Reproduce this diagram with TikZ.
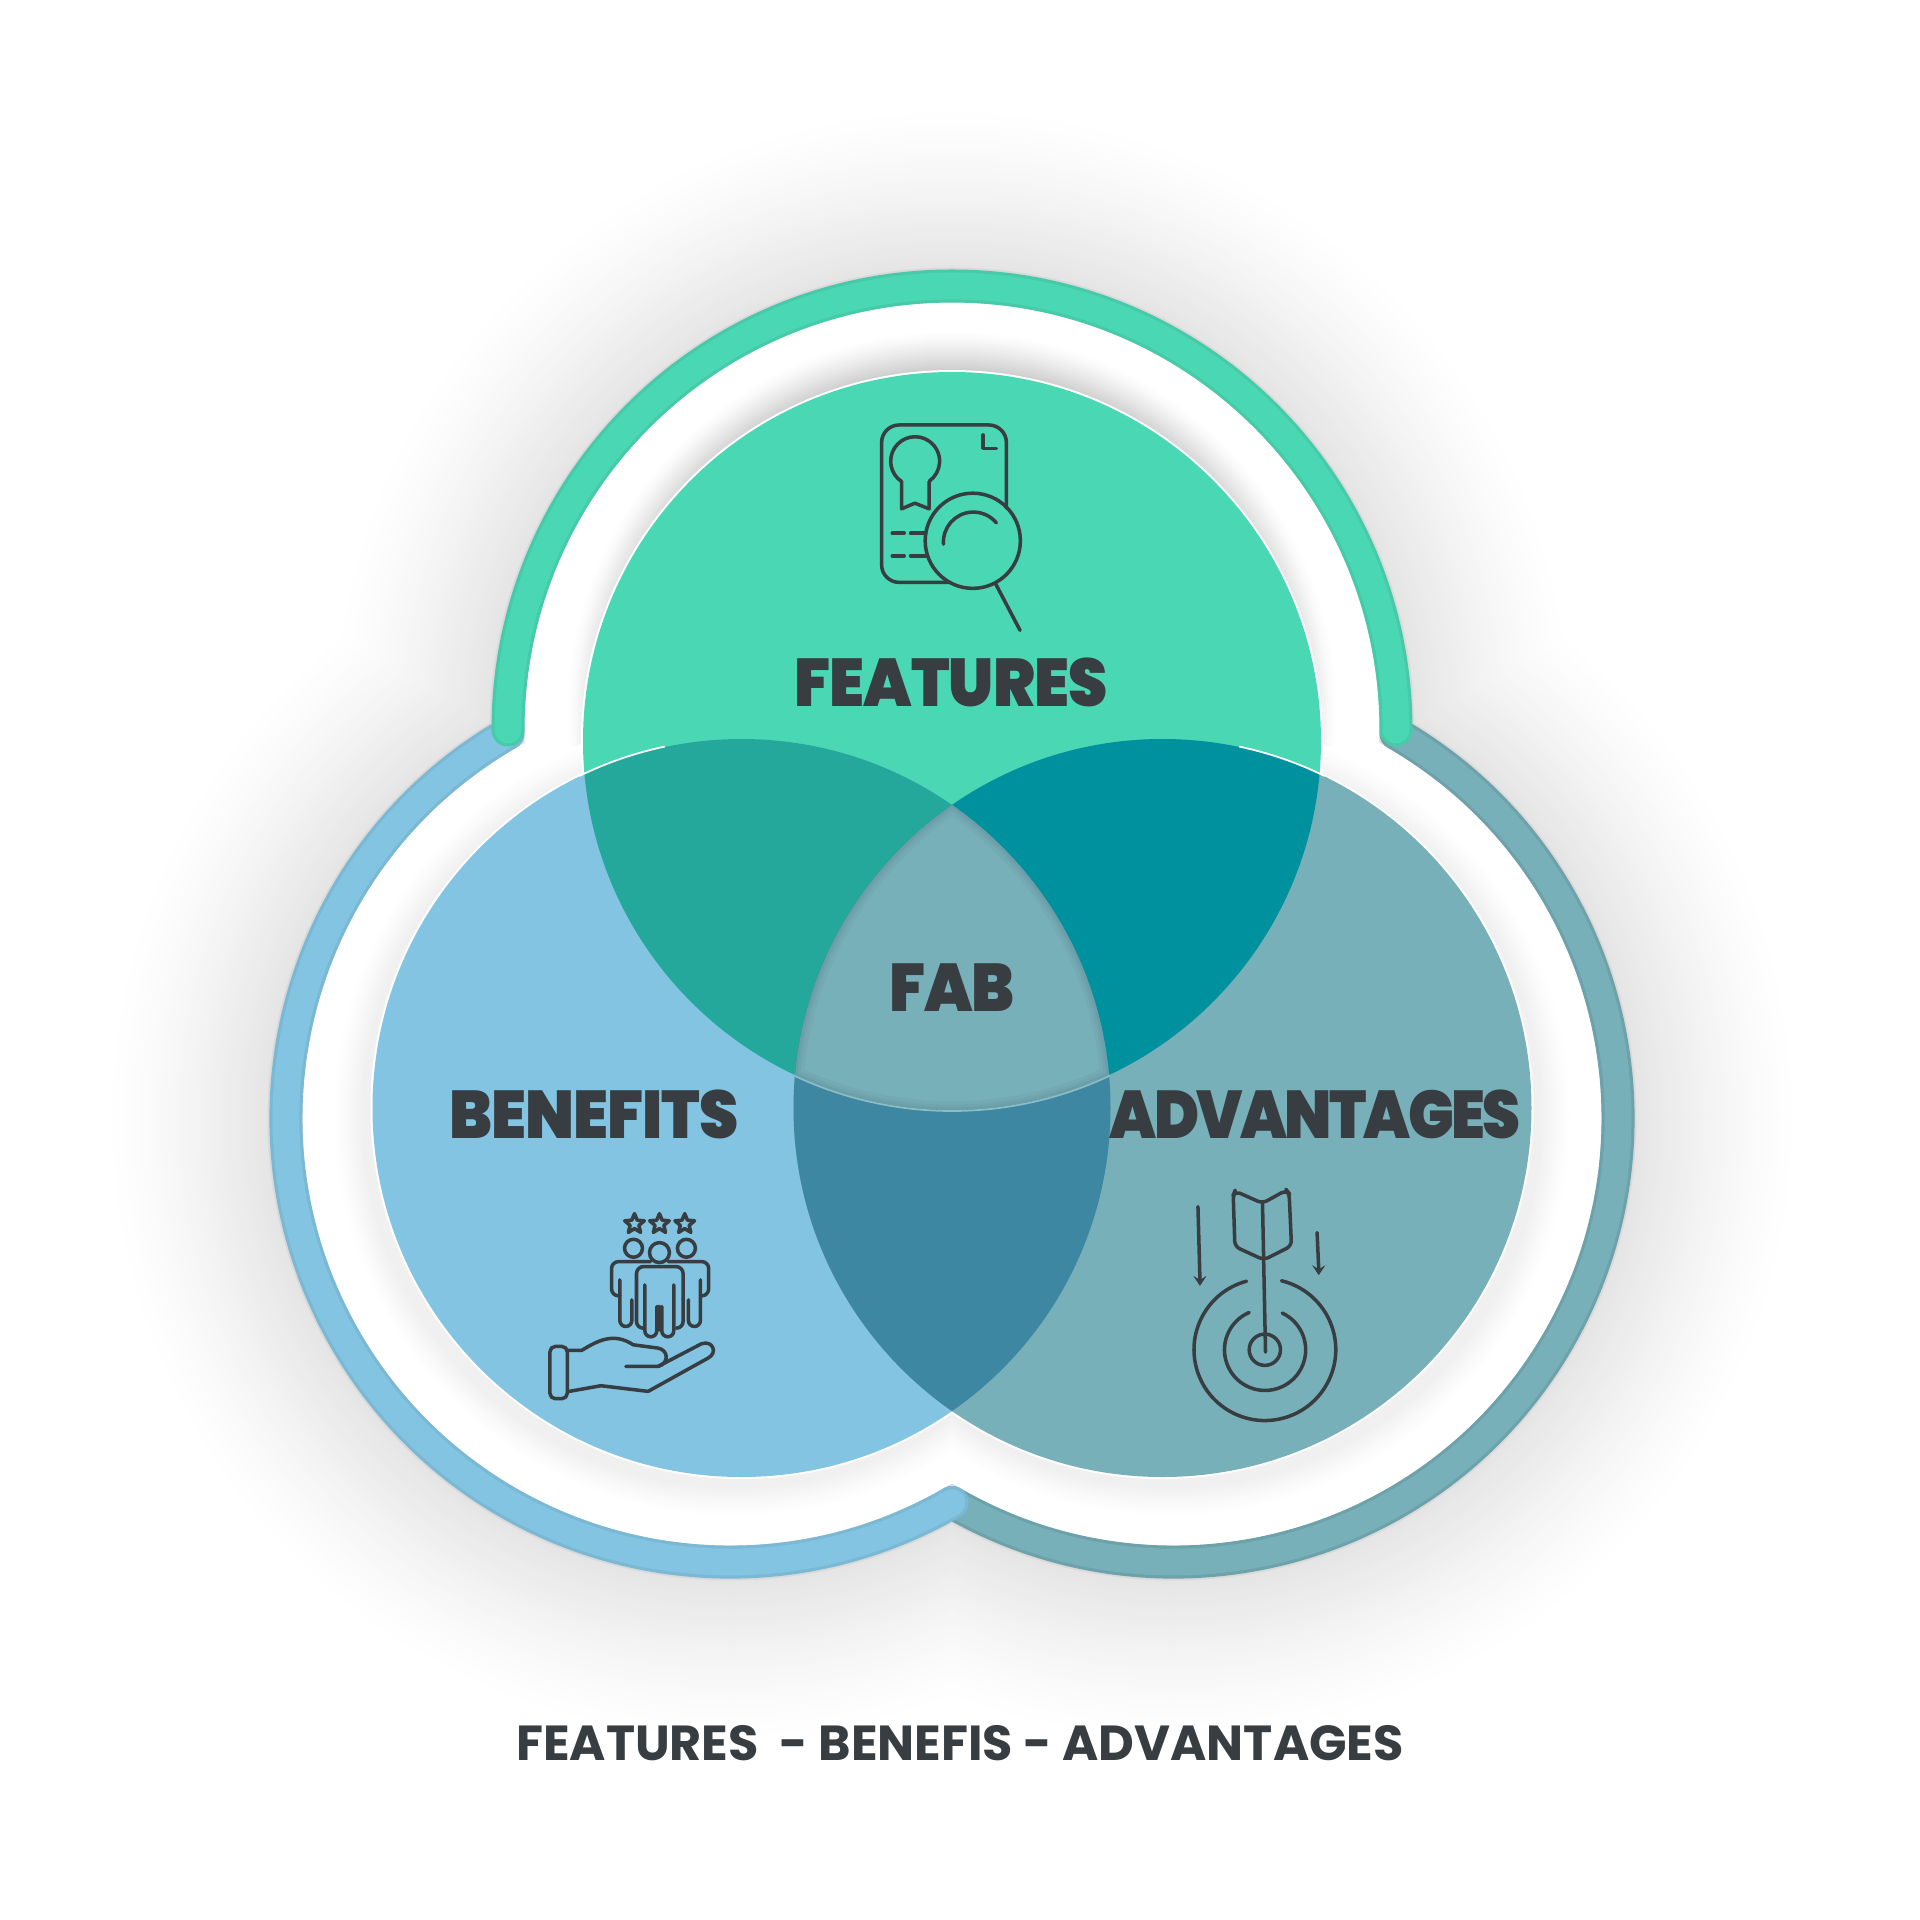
\documentclass[tikz,border=0pt]{standalone}
\usepackage{fontspec}
\setmainfont{Poppins}
\newfontfamily\headfont[FakeStretch=.93,LetterSpace=-1.5]{Poppins Black}
\newfontfamily\headtight[FakeStretch=.9,LetterSpace=-4]{Poppins Black}
\definecolor{inkgray}{HTML}{373D41}
\definecolor{greenfab}{HTML}{4AD7B3}
\definecolor{bluefab}{HTML}{82C4E1}
\definecolor{tealfab}{HTML}{78B0BA}
\definecolor{greenblue}{HTML}{24A89C}
\definecolor{greenteal}{HTML}{00919F}
\definecolor{blueteal}{HTML}{3D87A2}
\tikzset{
  iconline/.style={draw=inkgray,line width=1pt,line cap=round,line join=round},
  headlabel/.style={text=inkgray,font=\headfont\fontsize{19.2}{23}\selectfont,inner sep=0pt},
  footlabel/.style={text=inkgray,font=\bfseries\fontsize{14}{17}\selectfont,inner sep=0pt},
  rimline/.style={draw=gray!30,line width=9.9pt,line cap=round},
  bandline/.style={line width=9.4pt,line cap=round},
  bandcore/.style={line width=7.6pt,line cap=round},
}
\begin{document}
\begin{tikzpicture}[x=0.01cm,y=-0.01cm]
\useasboundingbox (0,0) rectangle (1920,1920);
\fill[white] (0,0) rectangle (1920,1920);

% Centres of the inner circles and of the outer ring
\coordinate (topC) at (952,741);
\coordinate (leftC) at (741.5,1108);
\coordinate (rightC) at (1162.5,1108);
\coordinate (ringT) at (952,730);
\coordinate (ringL) at (730,1118);
\coordinate (ringR) at (1174,1118);

% Soft shadow behind everything
\foreach \i in {0,...,50} {
  \pgfmathsetmacro{\R}{625-4*\i}
  \pgfmathsetmacro{\p}{13.5*(\i/50)^1.3}
  \fill[black!\p!white,yshift=-0.4cm] (ringT) circle (\R) (ringL) circle (\R) (ringR) circle (\R);
}

% Rim of the ring
\draw[rimline] (ringR)+(120:445) arc (120:-60:445);
\draw[rimline] (ringL)+(60:445) arc (60:240:445);
\draw[rimline] (ringT)+(180:445) arc (180:360:445);

% White body
\fill[white] (ringT) circle (427.5) (ringL) circle (427.5) (ringR) circle (427.5);

% Shadows on the white body
\begin{scope}
\clip (ringT) circle (427.5) (ringL) circle (427.5) (ringR) circle (427.5);
\foreach \i in {0,...,20} {
  \pgfmathsetmacro{\R}{386-2*\i}
  \pgfmathsetmacro{\p}{20*(\i/20)^1.3}
  \fill[black!\p!white] (952,716) circle (\R);
}
\foreach \i in {0,...,20} {
  \pgfmathsetmacro{\R}{402-1.5*\i}
  \pgfmathsetmacro{\p}{6*(\i/20)^1.3}
  \fill[black!\p!white] (1170,1116) circle (\R);
  \fill[black!\p!white] (734,1116) circle (\R);
}
\end{scope}

% Ring bands
\draw[bandline,draw=tealfab!92!black] (ringR)+(120:444) arc (120:-60:444);
\draw[bandcore,draw=tealfab] (ringR)+(120:444) arc (120:-60:444);
\draw[bandline,draw=bluefab!94!black] (ringL)+(60:444) arc (60:240:444);
\draw[bandcore,draw=bluefab] (ringL)+(60:444) arc (60:240:444);
\draw[bandline,draw=greenfab!94!black] (ringT)+(180:444) arc (180:360:444);
\draw[bandcore,draw=greenfab] (ringT)+(180:444) arc (180:360:444);

% Inner circles
\fill[white] (topC) circle (371) (leftC) circle (371) (rightC) circle (371);
\fill[greenfab] (topC) circle (369);
\fill[bluefab] (leftC) circle (369);
\fill[tealfab] (rightC) circle (369);

% Overlaps
\begin{scope}
\clip (topC) circle (369);
\fill[greenblue] (leftC) circle (369);
\fill[greenteal] (rightC) circle (369);
\end{scope}
\begin{scope}
\clip (leftC) circle (369);
\fill[blueteal] (rightC) circle (369);
\end{scope}

% Middle part with its inner edge
\begin{scope}
\clip (topC) circle (369);
\clip (leftC) circle (369);
\clip (rightC) circle (369);
\fill[tealfab] (0,0) rectangle (1920,1920);
\foreach \w in {5,3,1.5} {
  \draw[black,opacity=.03,line width=\w pt] (topC) circle (369) (leftC) circle (369) (rightC) circle (369);
}
\end{scope}
\draw[tealfab!85!white,line width=.5pt] (topC)+(64.7:370) arc (64.7:115.4:370);

% Thin light edges
\draw[white,line width=.5pt] (leftC)+(244:369.5) arc (244:258:369.5);
\draw[white,line width=.5pt] (rightC)+(296:369.5) arc (296:282:369.5);

% Labels
\node[headlabel] (features) at (951,682) {FEATURES};
\node[headlabel] (fab) at (952,988) {FAB};
\node[headlabel] (benefits) at (594,1114) {BENEFITS};
\node[headlabel,font=\headtight\fontsize{19.2}{23}\selectfont] (advantages) at (1315,1114) {ADVANTAGES};
\node[footlabel] (caption) at (960,1743) {FEATURES\ \ - BENEFIS - ADVANTAGES};

% Features icon
\begin{scope}[shift={(840,400)},x=0.00333cm,y=-0.00333cm]
\draw[iconline,rounded corners=5pt] (500,325) -- (500,75) -- (125,75) -- (125,548) -- (325,548);
\draw[iconline] (399,423) circle (143);
\draw[iconline] (468,553) -- (541,692);
\draw[iconline] (311,433) arc (176:320:90);
\draw[iconline] (185,245) arc (123.7:414.4:73.5);
\draw[iconline] (185,245) -- (185,327) -- (225,310) -- (268,327) -- (268,245);
\draw[iconline] (430,105) -- (430,145) -- (470,145);
\draw[iconline] (157,400) -- (193,400) (212,400) -- (257,400);
\draw[iconline] (157,468) -- (193,468) (212,468) -- (262,468);
\end{scope}

% Benefits icon
\begin{scope}[shift={(530,1200)},x=0.00333cm,y=-0.00333cm]
\foreach \sx in {314,389,465} {
  \draw[iconline,shift={(\sx,72)}] (-90:31) -- (-54:14) -- (-18:31) -- (18:14) -- (54:31) -- (90:14) -- (126:31) -- (162:14) -- (198:31) -- (234:14) -- cycle;
}
\draw[iconline] (311,145) circle (27) (389,158) circle (30) (470,145) circle (27);
\draw[iconline,rounded corners=2pt] (362,185) -- (245,185) -- (245,288) -- (270,288);
\draw[iconline] (270,240) -- (270,362) arc (180:0:18) -- (306,300);
\draw[iconline,rounded corners=2pt] (415,185) -- (537,185) -- (537,288) -- (512,288);
\draw[iconline] (512,240) -- (512,362) arc (0:180:18) -- (476,300);
\draw[iconline,rounded corners=2pt] (320,296) -- (320,200) -- (460,200) -- (460,296);
\draw[iconline] (320,296) -- (320,365) arc (180:90:20);
\draw[iconline] (460,296) -- (460,365) arc (0:90:20);
\draw[iconline] (345,255) -- (345,393) arc (180:0:18) -- (381,320);
\draw[iconline] (432,255) -- (432,393) arc (0:180:18) -- (396,320);
\draw[iconline] (388,320) -- (388,390);
\draw[iconline,rounded corners=1.5pt] (60,440) rectangle (112,597);
\draw[iconline] (115,452) -- (155,452) .. controls (200,425) and (250,395) .. (310,435) -- (385,445) .. controls (415,450) and (420,490) .. (385,500) -- (288,500);
\draw[iconline] (385,500) -- (515,432) .. controls (550,420) and (565,460) .. (535,475) -- (355,575) -- (213,558) -- (118,575);
\end{scope}

% Advantages icon
\begin{scope}[shift={(1170,1180)},x=0.00333cm,y=-0.00333cm]
\draw[iconline] (285,510) circle (47);
\draw[iconline] (238,398) arc (247:-65:122);
\draw[iconline] (230,304) arc (255:-76.5:213);
\draw[iconline] (278,70) -- (287,517);
\draw[iconline,rounded corners=1.5pt] (278,70) -- (195,33) -- (190,45) -- (195,200) -- (282,240) -- (365,198) -- (358,40) -- (350,30) -- cycle;
\draw[iconline] (84,80) -- (90,300);
\fill[inkgray] (70,288) -- (90,300) -- (110,288) -- (90,318) -- cycle;
\draw[iconline] (442,158) -- (447,270);
\fill[inkgray] (427,256) -- (447,268) -- (467,256) -- (447,286) -- cycle;
\end{scope}
\end{tikzpicture}
\end{document}
